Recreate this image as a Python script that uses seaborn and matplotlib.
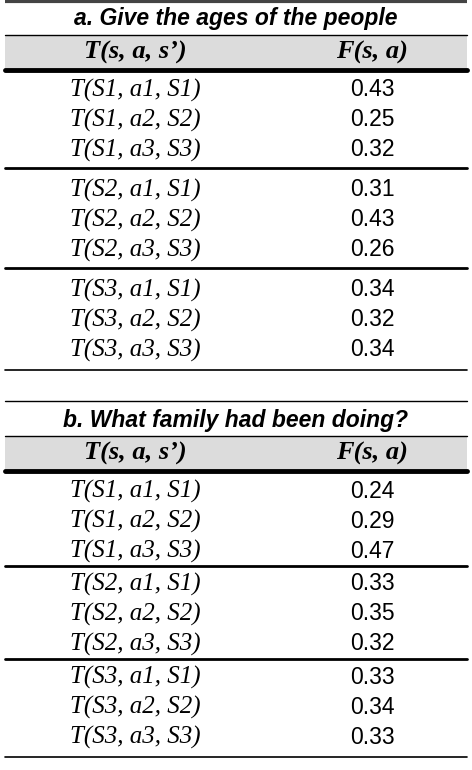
import matplotlib
matplotlib.use("Agg")
import matplotlib.pyplot as plt
import seaborn as sns

sns.set_theme(style="white")

# table data
titles = ["a. Give the ages of the people", "b. What family had been doing?"]
transitions = ["T(S1, a1, S1)", "T(S1, a2, S2)", "T(S1, a3, S3)",
               "T(S2, a1, S1)", "T(S2, a2, S2)", "T(S2, a3, S3)",
               "T(S3, a1, S1)", "T(S3, a2, S2)", "T(S3, a3, S3)"]
values_a = [0.43, 0.25, 0.32, 0.31, 0.43, 0.26, 0.34, 0.32, 0.34]
values_b = [0.24, 0.29, 0.47, 0.33, 0.35, 0.32, 0.33, 0.34, 0.33]
header = ["T(s, a, s’)", "F(s, a)"]

W, H = 472, 770
fig = plt.figure(figsize=(W / 100, H / 100), dpi=100)
ax = fig.add_axes([0, 0, 1, 1])
ax.set_xlim(0, W)
ax.set_ylim(H, 0)
ax.axis("off")

x0, x1 = 5, 467
cx_left, cx_right = 135, 372
serif = "Liberation Serif"
sans = "Liberation Sans"


def draw_table(top, title, values, top_line, group_gap):
    if top_line:
        ax.plot([x0, x1], [top + 1, top + 1], color="#444444", lw=3, solid_capstyle="butt")
    else:
        ax.plot([x0, x1], [top, top], color="black", lw=1)
    ax.text((x0 + x1) / 2, top + 19, title, ha="center", va="center", color="black",
            fontsize=16.5, fontweight="bold", fontstyle="italic", family=sans)
    ax.plot([x0, x1], [top + 35, top + 35], color="black", lw=1)
    ax.add_patch(plt.Rectangle((x0, top + 35), x1 - x0, 33, color="#dcdcdc", lw=0))
    for cx, h in zip([cx_left, cx_right], header):
        ax.text(cx, top + 52, h, ha="center", va="center", color="black",
                fontsize=19, fontweight="bold", fontstyle="italic", family=serif)
    ax.plot([x0, x1], [top + 70, top + 70], color="black", lw=3.5)
    y = top + 90
    for i, (lab, v) in enumerate(zip(transitions, values)):
        ax.text(cx_left, y, lab, ha="center", va="center", color="black",
                fontsize=18, fontstyle="italic", family=serif)
        ax.text(cx_right, y, f"{v:.2f}", ha="center", va="center", color="black",
                fontsize=16.5, family=sans)
        if i in (2, 5):
            ax.plot([x0, x1], [y + group_gap / 2 - 2, y + group_gap / 2 - 2], color="black", lw=2)
            y += group_gap
        else:
            y += 30
    ax.plot([x0, x1], [y - 30 + 20, y - 30 + 20], color="black", lw=1.2)


draw_table(0, titles[0], values_a, True, 40)
draw_table(401, titles[1], values_b, False, 33)

fig.savefig("out.png", dpi=100)
